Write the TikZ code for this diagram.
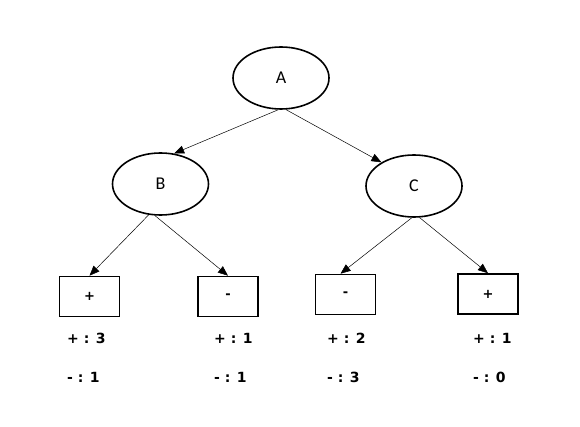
\documentclass[tikz,border=0pt]{standalone}
\usepackage{fontspec}
\setmainfont{DejaVu Sans}
\newfontfamily\calibrifont{Carlito}
\usetikzlibrary{arrows.meta,shapes.geometric}
\begin{document}
\begin{tikzpicture}[x=1pt,y=-1pt,
  ell/.style={ellipse,draw,line width=1.6pt,minimum width=96pt,minimum height=62pt,inner sep=0pt,font=\calibrifont\fontsize{18}{20}\selectfont},
  leaf/.style={rectangle,draw,line width=1.6pt,minimum width=60pt,minimum height=40pt,inner sep=0pt,font=\bfseries\fontsize{13}{15}\selectfont},
  cnt/.style={anchor=west,inner sep=0pt,font=\bfseries\fontsize{14}{16}\selectfont},
  edge/.style={line width=0.5pt,-{Triangle[length=10pt,width=8pt]}}]
\useasboundingbox (0,0) rectangle (580,427);
\node[ell] (A) at (281,78) {A};
\node[ell] (B) at (160.5,184) {B};
\node[ell] (C) at (414,186) {C};
\node[leaf] (L1) at (89.5,296.5) {+};
\node[leaf] (L2) at (228,296.5) {-};
\node[leaf] (L3) at (345.5,294.5) {-};
\node[leaf] (L4) at (488,294) {+};
\node[cnt] (p1) at (67,338) {+ : 3};
\node[cnt] (m1) at (67,377) {- : 1};
\node[cnt] (p2) at (214,338) {+ : 1};
\node[cnt] (m2) at (214,377) {- : 1};
\node[cnt] (p3) at (327,338) {+ : 2};
\node[cnt] (m3) at (327,377) {- : 3};
\node[cnt] (p4) at (473,338) {+ : 1};
\node[cnt] (m4) at (473,377) {- : 0};
\draw[edge] (A.265) -- (B.66);
\draw[edge] (A.279) -- (C.144);
\draw[edge] (B.249) -- (L1.north);
\draw[edge] (B.260) -- (L2.north);
\draw[edge] (C.266) -- ([xshift=-5pt]L3.north);
\draw[edge] (C.280) -- (L4.north);
\end{tikzpicture}
\end{document}
